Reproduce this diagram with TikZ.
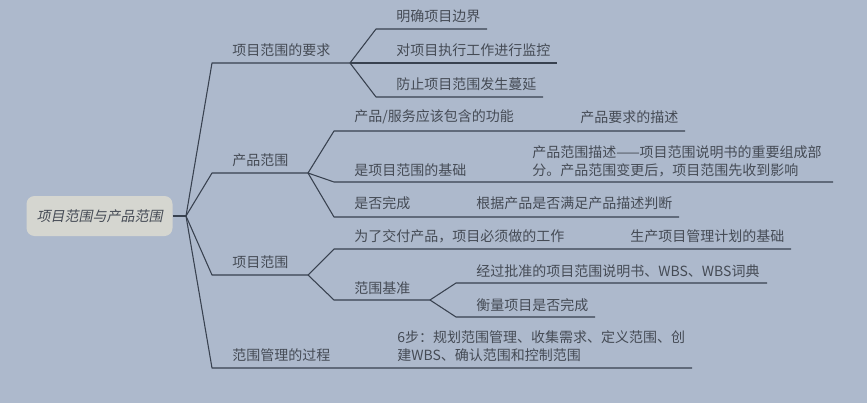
\documentclass[tikz,border=0pt]{standalone}
\usepackage{fontspec}
\setmainfont{Noto Sans CJK SC}
\newfontfamily\rootfont[FakeSlant=0.2]{Noto Sans CJK SC}
\usepackage{xcolor}
\usepackage{tikz}
\usetikzlibrary{positioning}
\definecolor{canvas}{HTML}{ADB9CC}
\definecolor{rootFill}{HTML}{D5D6D0}
\definecolor{ink}{HTML}{454B55}
\definecolor{slate}{HTML}{38414F}

\tikzset{
  topic/.style={anchor=west, inner sep=0pt, text=ink, align=left,
                font=\fontsize{10.5pt}{13.5pt}\selectfont},
  link/.style={draw=slate, line width=0.8pt, line join=round},
}

\begin{document}
\begin{tikzpicture}[x=0.75pt,y=-0.75pt]
  \fill[canvas] (0,0) rectangle (867,403);
  \useasboundingbox (0,0) rectangle (867,403);

  \node[fill=rootFill, rounded corners=6pt, inner sep=0pt,
        minimum width=109.5pt, minimum height=30pt,
        text=ink, font=\rootfont\fontsize{10.5pt}{13pt}\selectfont] (root) at (99.5,216) {项目范围与产品范围};
  \coordinate (hub) at (186,216);
  \draw[link, line width=2pt] (root.east) -- (hub);

  % level one
  \node[topic] (req)  at (232,50)  {项目范围的要求};
  \node[topic] (prod) at (232,160) {产品范围};
  \node[topic] (proj) at (232,262) {项目范围};
  \node[topic] (proc) at (232,355) {范围管理的过程};
  \coordinate (req-a)  at (212,63);  \coordinate (req-b)  at (350,63);
  \coordinate (prod-a) at (212,173); \coordinate (prod-b) at (308,173);
  \coordinate (proj-a) at (212,275); \coordinate (proj-b) at (308,275);
  \coordinate (proc-a) at (212,368); \coordinate (proc-b) at (692,368);
  \foreach \t in {req,prod,proj,proc}
    \draw[link] (hub) -- (\t-a) -- (\t-b);

  % requirements
  \node[topic] (req1) at (396,16) {明确项目边界};
  \node[topic] (req2) at (396,50) {对项目执行工作进行监控};
  \node[topic] (req3) at (396,84) {防止项目范围发生蔓延};
  \coordinate (req1-a) at (376,29); \coordinate (req1-b) at (487,29);
  \coordinate (req2-b) at (557,63);
  \coordinate (req3-a) at (376,97); \coordinate (req3-b) at (543,97);
  \draw[link] (req-b) -- (req1-a) -- (req1-b);
  \draw[link] (req-b) -- (req2-b);
  \draw[link] (req-b) -- (req3-a) -- (req3-b);

  % product scope
  \node[topic] (prod1)  at (354,117) {产品/服务应该包含的功能};
  \node[topic] (prod1x) at (580,117) {产品要求的描述};
  \node[topic] (prod2)  at (354,170) {是项目范围的基础};
  \node[topic] (prod2x) at (532,161) {产品范围描述——项目范围说明书的重要组成部\\分。产品范围变更后，项目范围先收到影响};
  \node[topic] (prod3)  at (354,203) {是否完成};
  \node[topic] (prod3x) at (476,203) {根据产品是否满足产品描述判断};
  \coordinate (prod1-a) at (334,131); \coordinate (prod1-b) at (685,131);
  \coordinate (prod2-a) at (334,182); \coordinate (prod2-b) at (833,182);
  \coordinate (prod3-a) at (334,217); \coordinate (prod3-b) at (679,217);
  \foreach \t in {prod1,prod2,prod3}
    \draw[link] (prod-b) -- (\t-a) -- (\t-b);

  % project scope
  \node[topic] (proj1)  at (354,236) {为了交付产品，项目必须做的工作};
  \node[topic] (proj1x) at (630,236) {生产项目管理计划的基础};
  \node[topic] (proj2)  at (354,288) {范围基准};
  \node[topic] (base1)  at (476,271) {经过批准的项目范围说明书、WBS、WBS词典};
  \node[topic] (base2)  at (476,305) {衡量项目是否完成};
  \coordinate (proj1-a) at (334,249); \coordinate (proj1-b) at (791,249);
  \coordinate (proj2-a) at (334,300); \coordinate (proj2-b) at (430,300);
  \coordinate (base1-a) at (456,283); \coordinate (base1-b) at (767,283);
  \coordinate (base2-a) at (456,317); \coordinate (base2-b) at (595,317);
  \foreach \t in {proj1,proj2}
    \draw[link] (proj-b) -- (\t-a) -- (\t-b);
  \foreach \t in {base1,base2}
    \draw[link] (proj2-b) -- (\t-a) -- (\t-b);

  % process
  \node[topic] (procx) at (397,346.5) {6步：规划范围管理、收集需求、定义范围、创\\建WBS、确认范围和控制范围};
\end{tikzpicture}
\end{document}
